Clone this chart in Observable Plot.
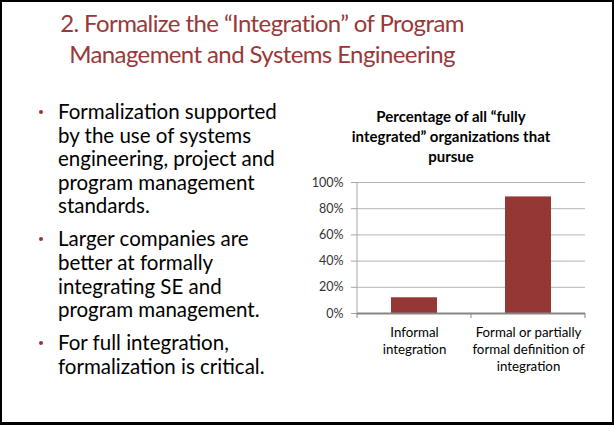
<!DOCTYPE html>
<html><head><meta charset="utf-8">
<script src="https://cdn.jsdelivr.net/npm/d3@7"></script>
<script src="https://cdn.jsdelivr.net/npm/@observablehq/plot@0.6"></script>
<style>
html,body{margin:0;padding:0;background:#fff;}
#slide{position:relative;width:614px;height:425px;overflow:hidden;font-family:Lato,"Open Sans",sans-serif;background:#fff;}
#frame{position:absolute;left:0;top:0;width:614px;height:425px;box-sizing:border-box;border-style:solid;border-color:#000;border-width:2px 2px 3px 2px;pointer-events:none;}
#title{position:absolute;left:0;top:7px;width:524px;text-align:center;font-size:24px;letter-spacing:-0.6px;line-height:31px;color:#993838;white-space:nowrap;}
#bullets{position:absolute;left:58px;top:100px;font-size:20.5px;line-height:23.6px;color:#000;white-space:nowrap;}
#bullets p{position:relative;margin:0 0 9.5px 0;}
#bullets p::before{content:"";position:absolute;left:-19px;top:10px;width:4px;height:4px;border-radius:50%;background:#953735;}
#ctitle{position:absolute;left:301px;top:106px;width:300px;text-align:center;font-weight:bold;font-size:15px;line-height:20px;color:#000;white-space:nowrap;}
#chart{position:absolute;left:300px;top:170px;}
</style></head>
<body>
<div id="slide">
  <div id="title"></div>
  <div id="bullets"></div>
  <div id="ctitle"></div>
  <div id="chart"></div>
  <div id="frame"></div>
</div>
<script>
const titleLines = ["2. Formalize the “Integration” of Program", "Management and Systems Engineering"];
const bulletLines = [
  ["Formalization supported", "by the use of systems", "engineering, project and", "program management", "standards."],
  ["Larger companies are", "better at formally", "integrating SE and", "program management."],
  ["For full integration,", "formalization is critical."]
];
const chartTitleLines = ["Percentage of all “fully", "integrated” organizations that", "pursue"];
const categories = ["Informal integration", "Formal or partially formal definition of integration"];
const categoryLabels = ["Informal\nintegration", "Formal or partially\nformal definition of\nintegration"];
const values = [0.12, 0.89];
const yTicks = [0, 0.2, 0.4, 0.6, 0.8, 1.0];

document.getElementById("title").innerHTML = titleLines.join("<br>");
document.getElementById("bullets").innerHTML = bulletLines.map(b => "<p>" + b.join("<br>") + "</p>").join("");
document.getElementById("ctitle").innerHTML = chartTitleLines.join("<br>");

const data = categories.map((c, i) => ({category: c, value: values[i]}));
const labelOf = new Map(categories.map((c, i) => [c, categoryLabels[i]]));

function frameTicks(index, scales, values, dims) {
  const left = dims.marginLeft, right = dims.width - dims.marginRight;
  const y0 = scales.y(0), top = scales.y(1);
  const n = categories.length;
  const g = d3.create("svg:g").attr("fill", "none");
  g.append("line").attr("x1", left).attr("x2", left).attr("y1", top).attr("y2", y0)
    .attr("stroke", "#a6a6a6").attr("stroke-width", 1);
  d3.range(n + 1).forEach(i => {
    const x = left + i * (right - left) / n;
    g.append("line").attr("x1", x).attr("x2", x).attr("y1", y0).attr("y2", y0 + 5)
      .attr("stroke", "#868686").attr("stroke-width", 1);
  });
  return g.node();
}

const plot = Plot.plot({
  width: 300,
  height: 210,
  marginLeft: 57,
  marginRight: 15,
  marginTop: 12,
  marginBottom: 67,
  style: {fontFamily: "Lato, sans-serif", background: "transparent", overflow: "visible"},
  x: {domain: categories, paddingInner: 0.6, paddingOuter: 0.3},
  y: {domain: [0, 1]},
  marks: [
    Plot.gridY(yTicks, {stroke: "#b3b3b3", strokeOpacity: 1, strokeWidth: 1}),
    Plot.axisY(yTicks, {tickFormat: d3.format(".0%"), tickSize: 6, tickPadding: 8, stroke: "#a6a6a6", fill: "#333", fontSize: 12.5, label: null}),
    Plot.barY(data, {x: "category", y: "value", fill: "#953735"}),
    Plot.ruleY([0], {stroke: "#868686", strokeWidth: 2}),
    frameTicks,
    Plot.axisX({tickSize: 0, tickPadding: 11, tickFormat: d => labelOf.get(d), fontSize: 13.3, lineHeight: 1.28, fill: "#000", label: null})
  ]
});
document.getElementById("chart").appendChild(plot);
</script>
</body></html>
